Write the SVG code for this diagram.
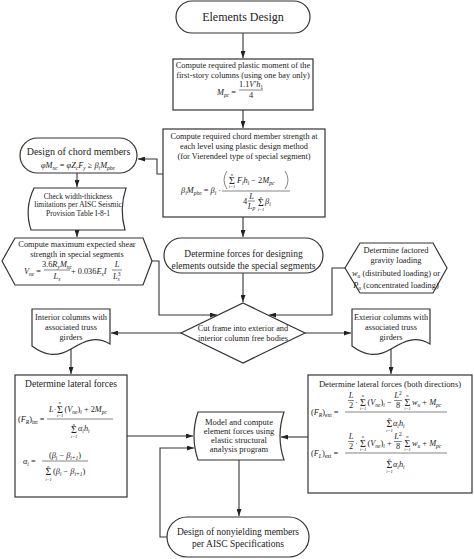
<svg xmlns="http://www.w3.org/2000/svg" width="474" height="559" viewBox="0 0 474 559" font-family="'Liberation Serif', 'Times New Roman', serif">
<defs>
<marker id="ah" viewBox="0 0 7 5" refX="7" refY="2.5" markerWidth="7" markerHeight="5" markerUnits="userSpaceOnUse" orient="auto"><path d="M0,0 L7,2.5 L0,5 Z" fill="#222"/></marker>
<style>
.b{fill:#fff;stroke:#333;stroke-width:1.2}
.c{fill:none;stroke:#333;stroke-width:1.1;marker-end:url(#ah)}
.fl{fill:none;stroke:#333;stroke-width:0.6}
text{font-family:"Liberation Serif","Times New Roman",serif;fill:#222}
.t{font-size:8.3px;text-anchor:middle}
.h{font-size:9.5px;text-anchor:middle}
.m{font-size:8.3px;font-style:italic}
.n{font-style:normal}
.s{font-size:5.5px}
.g{font-size:10px;font-style:normal;text-anchor:middle}
.lim{font-size:4.6px;font-style:italic;text-anchor:middle}
.mid{text-anchor:middle}
</style>
</defs>

<g id="connectors">
<path class="c" d="M243,33 V58"/>
<path class="c" d="M243,110 V128"/>
<path class="c" d="M163,174 H157 V159 H138"/>
<path class="c" d="M243,217 V237"/>
<path class="c" d="M77,173 V187"/>
<path class="c" d="M77,230 V237"/>
<path class="c" d="M152,261 H159 V315 H217"/>
<path class="c" d="M243,273 V302"/>
<path class="c" d="M345,268 H332 V315 H269"/>
<path class="c" d="M181,333 H111"/>
<path class="c" d="M305,333 H351"/>
<path class="c" d="M71,349 V374"/>
<path class="c" d="M391,349 V374"/>
<path class="c" d="M127,436 H193"/>
<path class="c" d="M167,537 H160 V448 H194"/>
<path class="c" d="M308,437 H281"/>
<path class="c" d="M239,460 V516"/>
</g>

<g id="elements-design">
<rect class="b" x="176" y="1" width="134" height="32" rx="16"/>
<text x="243" y="21" style="font-size:12px;text-anchor:middle">Elements Design</text>
</g>

<g id="plastic-moment">
<rect class="b" x="173" y="59" width="140" height="51"/>
<text class="t" x="243" y="68">Compute required plastic moment of the</text>
<text class="t" x="243" y="78">first-story columns (using one bay only)</text>
<text class="m" x="217" y="95">M<tspan class="s" dy="2">pc</tspan><tspan class="n" dy="-2"> =</tspan></text>
<text class="m mid" x="251" y="87"><tspan class="n">1.1</tspan>V′h<tspan class="s n" dy="2">1</tspan></text>
<line class="fl" x1="239" y1="90" x2="263" y2="90"/>
<text class="m n mid" x="251" y="98">4</text>
</g>

<g id="chord-strength">
<rect class="b" x="163" y="129" width="162" height="88"/>
<text class="t" x="244" y="139">Compute required chord member strength at</text>
<text class="t" x="244" y="148.5">each level using plastic design method</text>
<text class="t" x="244" y="158.5">(for Vierendeel type of special segment)</text>
<text class="m" x="221" y="193" text-anchor="end">β<tspan class="s" dy="2">i</tspan><tspan dy="-2">M</tspan><tspan class="s" dy="2">pbe</tspan><tspan class="n" dy="-2"> = </tspan>β<tspan class="s" dy="2">i</tspan><tspan class="n" dy="-2"> ·</tspan></text>
<path class="fl" d="M227,171 Q221,180 227,189"/>
<path class="fl" d="M285,171 Q291,180 285,189"/>
<text class="g" x="232" y="183.5">Σ</text>
<text class="lim" x="232" y="175.5">n</text>
<text class="lim" x="232" y="188">i=1</text>
<text class="m" x="237" y="182.5">F<tspan class="s" dy="2">i</tspan><tspan dy="-2">h</tspan><tspan class="s" dy="2">i</tspan><tspan class="n" dy="-2"> − 2</tspan>M<tspan class="s" dy="2">pc</tspan></text>
<line class="fl" x1="222" y1="191" x2="290" y2="191"/>
<text class="m n" x="243" y="204">4</text>
<text class="m mid" x="251.5" y="199">L</text>
<line class="fl" x1="248" y1="201" x2="255" y2="201"/>
<text class="m mid" x="251.5" y="208.5">L<tspan class="s" dy="1.5">p</tspan></text>
<text class="g" x="261" y="206">Σ</text>
<text class="lim" x="261" y="198.5">n</text>
<text class="lim" x="261" y="211">i=1</text>
<text class="m" x="265" y="204">β<tspan class="s" dy="2">i</tspan></text>
</g>

<g id="chord-members">
<rect class="b" x="20" y="138" width="117" height="35" rx="17.5"/>
<text x="78.5" y="155" style="font-size:10px;text-anchor:middle">Design of chord members</text>
<text class="m mid" x="78" y="168">φM<tspan class="s" dy="2">nc</tspan><tspan class="n" dy="-2"> = </tspan>φZ<tspan class="s" dy="2">c</tspan><tspan dy="-2">F</tspan><tspan class="s" dy="2">y</tspan><tspan class="n" dy="-2"> ≥ </tspan>β<tspan class="s" dy="2">i</tspan><tspan dy="-2">M</tspan><tspan class="s" dy="2">pbe</tspan></text>
</g>

<g id="width-thickness">
<path class="b" d="M34,188 H126 Q119,209 125,230 H31 Q24,209 34,188 Z"/>
<text x="78" y="198.5" style="font-size:7.5px;text-anchor:middle">Check width-thickness</text>
<text x="78" y="207" style="font-size:7.5px;text-anchor:middle">limitations per AISC Seismic</text>
<text x="78" y="215.5" style="font-size:7.5px;text-anchor:middle">Provision Table I-8-1</text>
</g>

<g id="shear-strength">
<polygon class="b" points="2,261 15,238 143,238 152,261 143,285 15,285"/>
<text class="t" x="77" y="247">Compute maximum expected shear</text>
<text class="t" x="77" y="256.5">strength in special segments</text>
<text class="m" x="24" y="274">V<tspan class="s" dy="2">ne</tspan><tspan class="n" dy="-2"> =</tspan></text>
<text class="m mid" x="57" y="267"><tspan class="n">3.6</tspan>R<tspan class="s" dy="2">y</tspan><tspan dy="-2">M</tspan><tspan class="s" dy="2">nc</tspan></text>
<line class="fl" x1="44" y1="270" x2="70" y2="270"/>
<text class="m mid" x="57" y="279">L<tspan class="s" dy="1.5">s</tspan></text>
<text class="m" x="71" y="274"><tspan class="n">+ 0.036</tspan>E<tspan class="s" dy="2">s</tspan><tspan dy="-2">I</tspan></text>
<text class="m mid" x="117" y="267">L</text>
<line class="fl" x1="112" y1="270" x2="122" y2="270"/>
<text class="m" x="113" y="279">L<tspan class="s n" dy="-3.5">3</tspan><tspan class="s" dx="-2.8" dy="5.5">s</tspan></text>
</g>

<g id="determine-forces">
<rect class="b" x="164" y="238" width="159" height="35" rx="17.5"/>
<text class="h" x="243.5" y="257">Determine forces for designing</text>
<text class="h" x="243.5" y="269">elements outside the special segments</text>
</g>

<g id="gravity-loading">
<polygon class="b" points="345,268 360,243 433,243 447,268 433,293 360,293"/>
<text x="396" y="252.5" style="font-size:8.4px;text-anchor:middle">Determine factored</text>
<text x="396" y="263" style="font-size:8.4px;text-anchor:middle">gravity loading</text>
<text x="396" y="276" style="font-size:8.4px;text-anchor:middle"><tspan font-style="italic">w</tspan><tspan class="s" font-style="italic" dy="2">u</tspan><tspan dy="-2"> (distributed loading) or</tspan></text>
<text x="396" y="288" style="font-size:8.4px;text-anchor:middle"><tspan font-style="italic">P</tspan><tspan class="s" font-style="italic" dy="2">u</tspan><tspan dy="-2"> (concentrated loading)</tspan></text>
</g>

<g id="cut-frame">
<polygon class="b" points="243,303 305,333 243,363 181,333"/>
<text class="t" x="243" y="330.5">Cut frame into exterior and</text>
<text class="t" x="243" y="341">interior column free bodies</text>
</g>

<g id="interior-columns">
<path class="b" d="M32,309 H110 V344 C96,336 86,340 71,349 C56,358 44,355 32,346 Z"/>
<text class="t" x="71" y="320">Interior columns with</text>
<text class="t" x="71" y="330">associated truss</text>
<text class="t" x="71" y="340">girders</text>
</g>

<g id="exterior-columns">
<path class="b" d="M352,309 H430 V344 C416,336 406,340 391,349 C376,358 364,355 352,346 Z"/>
<text class="t" x="391" y="320">Exterior columns with</text>
<text class="t" x="391" y="330">associated truss</text>
<text class="t" x="391" y="340">girders</text>
</g>

<g id="lateral-forces-int">
<rect class="b" x="15" y="375" width="112" height="122"/>
<text x="71" y="386.5" style="font-size:9.5px;text-anchor:middle">Determine lateral forces</text>
<text class="m" x="18" y="422"><tspan class="n">(</tspan>F<tspan class="s" dy="2">R</tspan><tspan class="n" dy="-2">)</tspan><tspan class="s n" dy="2">int</tspan><tspan class="n" dy="-2"> =</tspan></text>
<text class="m" x="49" y="412">L<tspan class="n">·</tspan></text>
<text class="g" x="60" y="412.5">Σ</text>
<text class="lim" x="60" y="404">n</text>
<text class="lim" x="60" y="417">i=1</text>
<text class="m" x="64.5" y="412"><tspan class="n">(</tspan>V<tspan class="s" dy="2">ne</tspan><tspan class="n" dy="-2">)</tspan><tspan class="s" dy="2">i</tspan><tspan class="n" dy="-2"> + 2</tspan>M<tspan class="s" dy="2">pc</tspan></text>
<line class="fl" x1="47" y1="419" x2="113" y2="419"/>
<text class="g" x="74" y="432.5">Σ</text>
<text class="lim" x="74" y="425.5">n</text>
<text class="lim" x="74" y="438">i=1</text>
<text class="m" x="78" y="431">α<tspan class="s" dy="2">i</tspan><tspan dy="-2">h</tspan><tspan class="s" dy="2">i</tspan></text>
<text class="m" x="23" y="464">α<tspan class="s" dy="2">i</tspan><tspan class="n" dy="-2"> =</tspan></text>
<text class="m mid" x="65" y="458"><tspan class="n">(</tspan>β<tspan class="s" dy="2">i</tspan><tspan class="n" dy="-2"> − </tspan>β<tspan class="s" dy="2">i+1</tspan><tspan class="n" dy="-2">)</tspan></text>
<line class="fl" x1="42" y1="461" x2="88" y2="461"/>
<text class="g" x="48.5" y="475">Σ</text>
<text class="lim" x="48.5" y="467.5">n</text>
<text class="lim" x="48.5" y="480.5">i=1</text>
<text class="m" x="53" y="473.5"><tspan class="n">(</tspan>β<tspan class="s" dy="2">i</tspan><tspan class="n" dy="-2"> − </tspan>β<tspan class="s" dy="2">i+1</tspan><tspan class="n" dy="-2">)</tspan></text>
</g>

<g id="lateral-forces-ext">
<rect class="b" x="308" y="375" width="164" height="118"/>
<text x="390" y="386.5" style="font-size:8.6px;text-anchor:middle">Determine lateral forces (both directions)</text>
<text class="m" x="311" y="415"><tspan class="n">(</tspan>F<tspan class="s" dy="2">R</tspan><tspan class="n" dy="-2">)</tspan><tspan class="s n" dy="2">ext</tspan><tspan class="n" dy="-2"> =</tspan></text>
<text class="m mid" x="351" y="398">L</text>
<line class="fl" x1="348" y1="400.5" x2="354" y2="400.5"/>
<text class="m n mid" x="351" y="407.5">2</text>
<text class="m n" x="355" y="405">·</text>
<text class="g" x="363" y="405.5">Σ</text>
<text class="lim" x="363" y="397">n</text>
<text class="lim" x="363" y="410">i=1</text>
<text class="m" x="367.5" y="405"><tspan class="n">(</tspan>V<tspan class="s" dy="2">ne</tspan><tspan class="n" dy="-2">)</tspan><tspan class="s" dy="2">i</tspan><tspan class="n" dy="-2"> −</tspan></text>
<text class="m mid" x="398" y="398">L<tspan class="s n" dy="-3">2</tspan></text>
<line class="fl" x1="394" y1="400.5" x2="402" y2="400.5"/>
<text class="m n mid" x="398" y="407.5">8</text>
<text class="g" x="407.5" y="405.5">Σ</text>
<text class="lim" x="407.5" y="397">n</text>
<text class="lim" x="407.5" y="410">i=1</text>
<text class="m" x="412" y="405">w<tspan class="s" dy="2">u</tspan><tspan class="n" dy="-2"> + </tspan>M<tspan class="s" dy="2">pc</tspan></text>
<line class="fl" x1="345" y1="412" x2="447" y2="412"/>
<text class="g" x="389.5" y="426.5">Σ</text>
<text class="lim" x="389.5" y="419.5">n</text>
<text class="lim" x="389.5" y="432">i=1</text>
<text class="m" x="393" y="425.5">α<tspan class="s" dy="2">i</tspan><tspan dy="-2">h</tspan><tspan class="s" dy="2">i</tspan></text>

<text class="m" x="311" y="456"><tspan class="n">(</tspan>F<tspan class="s" dy="2">L</tspan><tspan class="n" dy="-2">)</tspan><tspan class="s n" dy="2">ext</tspan><tspan class="n" dy="-2"> =</tspan></text>
<text class="m mid" x="351" y="439">L</text>
<line class="fl" x1="348" y1="441.5" x2="354" y2="441.5"/>
<text class="m n mid" x="351" y="448.5">2</text>
<text class="m n" x="355" y="446">·</text>
<text class="g" x="363" y="446.5">Σ</text>
<text class="lim" x="363" y="438">n</text>
<text class="lim" x="363" y="451">i=1</text>
<text class="m" x="367.5" y="446"><tspan class="n">(</tspan>V<tspan class="s" dy="2">ne</tspan><tspan class="n" dy="-2">)</tspan><tspan class="s" dy="2">i</tspan><tspan class="n" dy="-2"> +</tspan></text>
<text class="m mid" x="398" y="439">L<tspan class="s n" dy="-3">2</tspan></text>
<line class="fl" x1="394" y1="441.5" x2="402" y2="441.5"/>
<text class="m n mid" x="398" y="448.5">8</text>
<text class="g" x="407.5" y="446.5">Σ</text>
<text class="lim" x="407.5" y="438">n</text>
<text class="lim" x="407.5" y="451">i=1</text>
<text class="m" x="412" y="446">w<tspan class="s" dy="2">u</tspan><tspan class="n" dy="-2"> + </tspan>M<tspan class="s" dy="2">pc</tspan></text>
<line class="fl" x1="345" y1="453" x2="447" y2="453"/>
<text class="g" x="389.5" y="467.5">Σ</text>
<text class="lim" x="389.5" y="460.5">n</text>
<text class="lim" x="389.5" y="473">i=1</text>
<text class="m" x="393" y="466.5">α<tspan class="s" dy="2">i</tspan><tspan dy="-2">h</tspan><tspan class="s" dy="2">i</tspan></text>
</g>

<g id="model-compute">
<path class="b" d="M198,412 H284 Q276,436 284,460 H198 Q190,436 198,412 Z"/>
<text x="239" y="424.5" style="font-size:8.5px;text-anchor:middle">Model and compute</text>
<text x="239" y="433.5" style="font-size:8.5px;text-anchor:middle">element forces using</text>
<text x="239" y="442.5" style="font-size:8.5px;text-anchor:middle">elastic structural</text>
<text x="239" y="452" style="font-size:8.5px;text-anchor:middle">analysis program</text>
</g>

<g id="nonyielding-members">
<rect class="b" x="167" y="517" width="142" height="40" rx="20"/>
<text class="h" x="238" y="535">Design of nonyielding members</text>
<text class="h" x="238" y="547">per AISC Specifications</text>
</g>
</svg>
